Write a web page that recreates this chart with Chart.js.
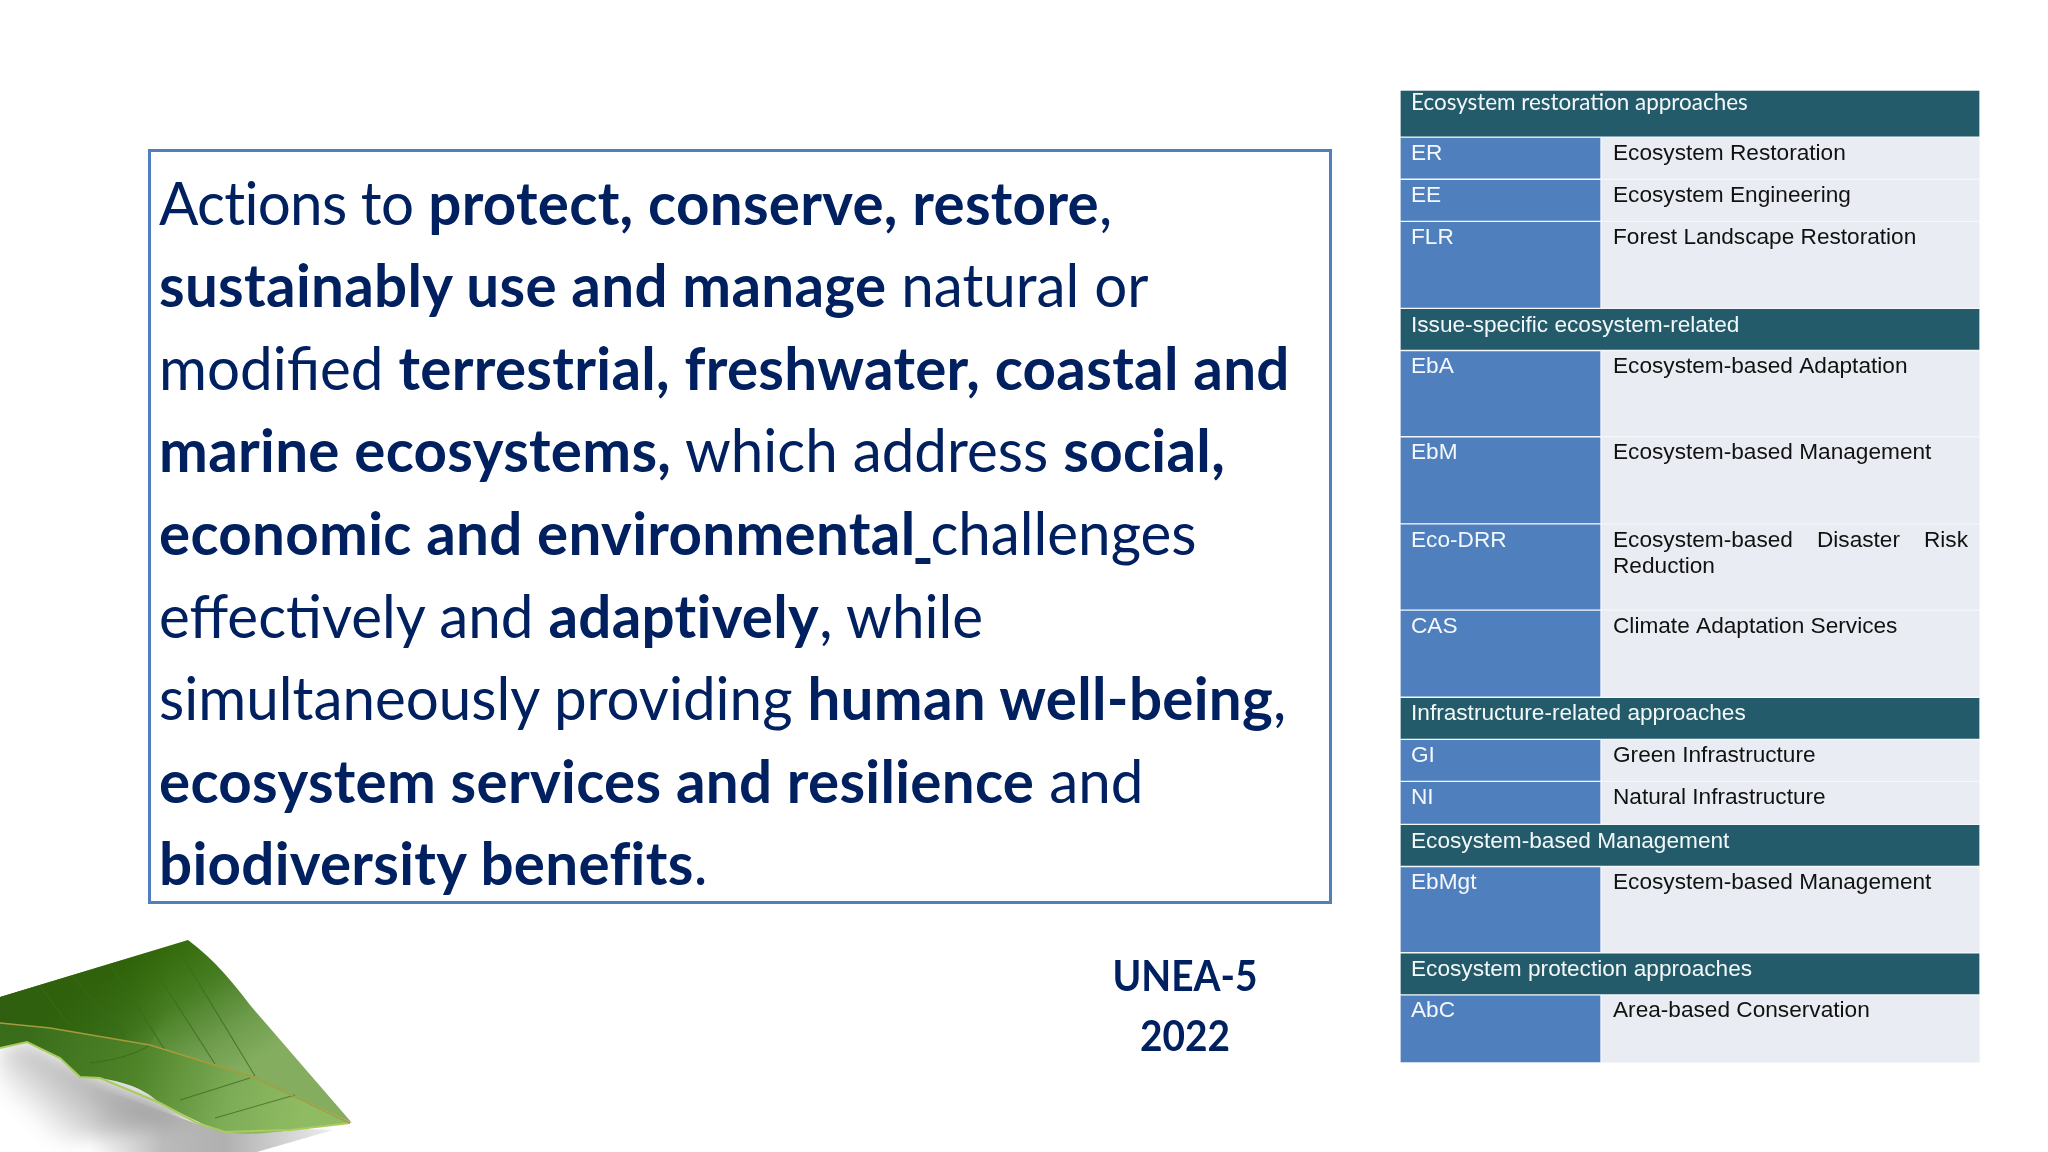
<!DOCTYPE html>
<html>
<head>
<meta charset="utf-8">
<script src="https://cdn.jsdelivr.net/npm/chart.js@4"></script>
<style>
  html, body { margin: 0; width: 2048px; height: 1152px; background: #fff; overflow: hidden; }
  #box { position: absolute; left: 148px; top: 149px; width: 1178px; height: 749px; border: 3px solid #4f7fbd; }
  .line { position: absolute; left: 159px; white-space: nowrap; font: 400 60px Lato, sans-serif; color: #002060; transform-origin: left top; transform: scaleX(0.972); }
  .line b { font-weight: 700; letter-spacing: 0.3px; }
  .tight { letter-spacing: -0.7px; }
  .unea { position: absolute; left: 1035px; width: 300px; text-align: center; font: 700 42px Lato, sans-serif; color: #002060; transform: scaleX(0.925); }
  #leaf { position: absolute; left: 0; top: 900px; }
  #table { position: absolute; left: 1400px; top: 90px; }
</style>
</head>
<body>
<svg id="leaf" width="400" height="252" viewBox="0 900 400 252">
  <defs>
    <linearGradient id="upperHalf" gradientUnits="userSpaceOnUse" x1="150" y1="945" x2="235" y2="1075">
      <stop offset="0" stop-color="#2f6606"/>
      <stop offset="0.4" stop-color="#477d22"/>
      <stop offset="0.75" stop-color="#6f9d4e"/>
      <stop offset="1" stop-color="#84ad60"/>
    </linearGradient>
    <linearGradient id="upperLeft" gradientUnits="userSpaceOnUse" x1="0" y1="1000" x2="170" y2="1000">
      <stop offset="0" stop-color="#2f5f0f" stop-opacity="0.95"/>
      <stop offset="0.7" stop-color="#2f5f0f" stop-opacity="0.45"/>
      <stop offset="1" stop-color="#2f5f0f" stop-opacity="0"/>
    </linearGradient>
    <linearGradient id="lowerHalf" gradientUnits="userSpaceOnUse" x1="30" y1="1030" x2="300" y2="1120">
      <stop offset="0" stop-color="#3a6d1a"/>
      <stop offset="0.4" stop-color="#4f8429"/>
      <stop offset="0.75" stop-color="#7ead58"/>
      <stop offset="1" stop-color="#8fbb62"/>
    </linearGradient>
    <linearGradient id="fadeDown" gradientUnits="userSpaceOnUse" x1="130" y1="1080" x2="60" y2="1152">
      <stop offset="0" stop-color="#9a9a9a"/>
      <stop offset="0.6" stop-color="#d0d0d0"/>
      <stop offset="1" stop-color="#ffffff"/>
    </linearGradient>
    <linearGradient id="fadeRight" gradientUnits="userSpaceOnUse" x1="90" y1="1120" x2="335" y2="1125">
      <stop offset="0" stop-color="#aaaaaa" stop-opacity="0"/>
      <stop offset="0.3" stop-color="#aaaaaa" stop-opacity="0.8"/>
      <stop offset="0.55" stop-color="#b0b0b0"/>
      <stop offset="1" stop-color="#eeeeee"/>
    </linearGradient>
    <filter id="soft" x="-20%" y="-20%" width="140%" height="140%"><feGaussianBlur stdDeviation="9"/></filter>
  </defs>
  <path d="M0 1048 L27 1042 L63 1060 L100 1078 L160 1103 L197 1123 L0 1152 Z" fill="url(#fadeDown)" filter="url(#soft)"/>
  <path d="M90 1085 L200 1125 L333 1130 L257 1152 L90 1152 Z" fill="url(#fadeRight)"/>
  <path d="M0 1023 L50 1028 L150 1045 L253 1077 L350 1123 L290 1130 C260 1135 235 1135 215 1130 L160 1103 C145 1090 130 1083 100 1078 L80 1077 C70 1070 65 1062 60 1058 L27 1042 L0 1048 Z" fill="url(#lowerHalf)"/>
  <path d="M0 997 L188 940 C215 960 235 985 250 1005 L352 1123 L253 1077 L150 1045 L50 1028 L0 1023 Z" fill="url(#upperHalf)"/>
  <path d="M0 997 L188 940 L200 952 L150 1045 L50 1028 L0 1023 Z" fill="url(#upperLeft)"/>
  <path d="M0 1048 L27 1042 L60 1058 L80 1077 L100 1078 L160 1103 L197 1123 L225 1132 L290 1130 L350 1123" fill="none" stroke="#a9cc5c" stroke-width="2"/>
  <g fill="none" stroke="#3a6a1c" stroke-width="1.1" opacity="0.75">
    <path d="M40 986 L70 1026"/><path d="M72 976 L125 1037"/><path d="M110 964 L165 1050"/>
    <path d="M145 955 L215 1064"/><path d="M180 952 L255 1076"/><path d="M180 1100 L250 1078"/><path d="M215 1118 L295 1095"/>
    <path d="M90 1063 C115 1060 135 1055 150 1045"/>
  </g>
  <path d="M0 1023 L50 1028 L150 1045 L253 1077 L350 1123" fill="none" stroke="#a79a3c" stroke-width="1.5"/>
</svg>

<div id="box"></div>
<div class="line" style="top:166px"><span class="tight">Actions to</span> <b>protect, conserve, restore</b>,</div>
<div class="line" style="top:248px"><b>sustainably use and manage</b> natural or</div>
<div class="line" style="top:331px">modified <b>terrestrial, freshwater, coastal and</b></div>
<div class="line" style="top:413px"><b>marine ecosystems,</b> which address <b>social,</b></div>
<div class="line" style="top:496px"><b>economic and environmental</b><u> </u>challenges</div>
<div class="line" style="top:579px">effectively and <b>adaptively</b>, while</div>
<div class="line" style="top:661px">simultaneously providing <b>human well-being</b>,</div>
<div class="line" style="top:744px"><b>ecosystem services and resilience</b> and</div>
<div class="line" style="top:826px"><b>biodiversity benefits</b>.</div>
<div class="unea" style="top:950px">UNEA-5</div>
<div class="unea" style="top:1010px">2022</div>

<canvas id="table" width="580" height="973"></canvas>

<script>
// one entry per table row, null in rowNames marks a section header
const rowCodes = ['Ecosystem restoration approaches', 'ER', 'EE', 'FLR', 'Issue-specific ecosystem-related',
    'EbA', 'EbM', 'Eco-DRR', 'CAS', 'Infrastructure-related approaches', 'GI', 'NI',
    'Ecosystem-based Management', 'EbMgt', 'Ecosystem protection approaches', 'AbC'];
const rowNames = [null, 'Ecosystem Restoration', 'Ecosystem Engineering', 'Forest Landscape Restoration', null,
    'Ecosystem-based Adaptation', 'Ecosystem-based Management', 'Ecosystem-based Disaster Risk Reduction',
    'Climate Adaptation Services', null, 'Green Infrastructure', 'Natural Infrastructure',
    null, 'Ecosystem-based Management', null, 'Area-based Conservation'];
// row heights, in single text rows
const rowSpans = [1.12, 1, 1, 2.07, 1, 2.05, 2.07, 2.05, 2.07, 1, 1, 1.02, 1, 2.05, 1, 1.62];

const COL_CODE = 201;
const COL_NAME = 379;
const PAD = 11;

const rowTops = [];
rowSpans.reduce((sum, span, i) => { rowTops[i] = sum; return sum + span; }, 0);
const totalRows = rowSpans.reduce((a, b) => a + b, 0);
const rowRange = i => [rowTops[i], rowTops[i] + rowSpans[i]];
const rowIndexes = rowSpans.map((_, i) => i);

const headerRows = rowIndexes.filter(i => rowNames[i] === null);
const bodyRows = rowIndexes.filter(i => rowNames[i] !== null);

const cellText = {
    id: 'cellText',
    afterDatasetsDraw(chart) {
        const c = chart.ctx;
        const y = chart.scales.y;
        const unit = y.getPixelForValue(1) - y.getPixelForValue(0);
        const drawCell = (text, left, i, color, font, maxWidth, nudge) => {
            const base = y.getPixelForValue(rowTops[i]) + 0.55 * unit + nudge;
            c.fillStyle = color;
            c.font = font;
            c.textBaseline = 'alphabetic';
            // wrap, and justify every line but the last
            const words = text.split(' ');
            const lines = [];
            let cur = [];
            words.forEach(w => {
                if (c.measureText(cur.concat(w).join(' ')).width > maxWidth && cur.length) { lines.push(cur); cur = []; }
                cur.push(w);
            });
            lines.push(cur);
            lines.forEach((ln, k) => {
                const ly = base + k * 26;
                if (k < lines.length - 1 && ln.length > 1) {
                    const used = ln.reduce((s, w) => s + c.measureText(w).width, 0);
                    const gap = (maxWidth - used) / (ln.length - 1);
                    let x = left;
                    ln.forEach(w => { c.fillText(w, x, ly); x += c.measureText(w).width + gap; });
                } else {
                    c.fillText(ln.join(' '), left, ly);
                }
            });
        };
        const bodyFont = '22.65px "Liberation Sans", sans-serif';
        headerRows.forEach(i => {
            const font = i === 0 ? '22.45px Lato, sans-serif' : bodyFont;
            drawCell(rowCodes[i], PAD, i, '#f4f8f9', font, COL_CODE + COL_NAME, i === 0 ? -3 : 0);
        });
        bodyRows.forEach(i => {
            drawCell(rowCodes[i], PAD, i, '#f4f7fb', bodyFont, COL_CODE, -0.5);
            drawCell(rowNames[i], COL_CODE + 12, i, '#111111', bodyFont, COL_NAME - 24, -0.5);
        });
    }
};

new Chart(document.getElementById('table'), {
    type: 'bar',
    data: {
        datasets: [
            {
                label: 'Sections',
                data: headerRows.map(i => ({ x: (COL_CODE + COL_NAME) / 2, y: rowRange(i) })),
                backgroundColor: '#235b6a',
                barThickness: COL_CODE + COL_NAME
            },
            {
                label: 'Codes',
                data: bodyRows.map(i => ({ x: COL_CODE / 2, y: rowRange(i) })),
                backgroundColor: '#4f80bd',
                barThickness: COL_CODE
            },
            {
                label: 'Names',
                data: bodyRows.map(i => ({ x: COL_CODE + COL_NAME / 2, y: rowRange(i) })),
                backgroundColor: '#e9ecf2',
                barThickness: COL_NAME
            }
        ]
    },
    options: {
        responsive: false,
        animation: false,
        devicePixelRatio: 1,
        grouped: false,
        borderWidth: 1,
        borderColor: '#f3f7fb',
        borderSkipped: false,
        plugins: {
            legend: { display: false },
            tooltip: { enabled: false }
        },
        scales: {
            x: { type: 'linear', display: false, offset: false, min: 0, max: COL_CODE + COL_NAME },
            y: { type: 'linear', display: false, reverse: true, min: 0, max: totalRows }
        }
    },
    plugins: [cellText]
});
</script>
</body>
</html>
